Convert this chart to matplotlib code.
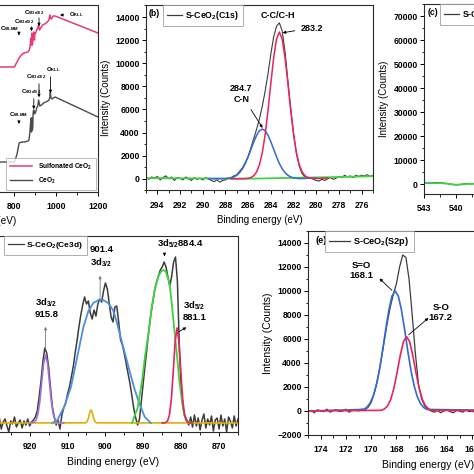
import matplotlib
matplotlib.use("Agg")
import matplotlib.pyplot as plt
from matplotlib.ticker import MultipleLocator

plt.rcParams['font.family'] = ['Liberation Sans', 'DejaVu Sans']
plt.rcParams['font.weight'] = 'bold'
plt.rcParams['mathtext.fontset'] = 'custom'
plt.rcParams['mathtext.rm'] = 'Liberation Sans:bold'
plt.rcParams['mathtext.bf'] = 'Liberation Sans:bold'
plt.rcParams['mathtext.it'] = 'Liberation Sans:bold'
plt.rcParams['mathtext.default'] = 'bf'

# ---------------- data ----------------
# (a) survey, arbitrary intensity units
a_red_x = [0, 800, 823, 833, 846, 865, 872, 876, 879, 882, 884, 886, 888, 891, 893, 896, 898, 902,
           907, 912, 916, 920, 926, 935, 945, 958, 965, 970, 973, 977, 985, 995, 1200]
a_red_y = [125, 125, 134, 137, 139, 140, 142, 147, 154, 147, 159, 147, 150, 156, 160, 152, 158, 159,
           162, 164, 167, 162, 164, 167, 168, 170, 172, 177, 174, 173, 176, 176, 159]
a_blk_x = [0, 800, 812, 823, 835, 850, 865, 870, 874, 877, 880, 882, 884, 886, 888, 890, 893, 897,
           902, 907, 912, 916, 922, 930, 940, 950, 960, 966, 970, 972, 975, 980, 986, 995, 1200]
a_blk_y = [30, 30, 37, 49, 50, 50, 51, 52, 59, 67, 74, 60, 74, 62, 64, 80, 82, 78,
           80, 84, 86, 92, 86, 87, 89, 90, 91, 92, 95, 100, 94, 93, 94, 95, 75]

# (b) C1s
b_x = [295 - 0.25 * i for i in range(81)]
b_data = [100, -50, 150, 50, 200, -100, 100, 250, 0, 150, -150, 100, 50, -100, 150, 0, -150, 100,
          -50, 50, -100, 100, 0, -150, -250, -100, -300, -150, -100, 50, 100, 250, 350, 650, 950,
          1400, 1950, 2700, 3500, 4300, 5200, 6300, 7600, 9100, 10800, 12300, 13200, 13500, 12800,
          11000, 8500, 6100, 3900, 2200, 1100, 450, 150, 50, 100, -50, -150, -200, -50, -150, 0,
          100, -50, 50, 200, 100, 300, 150, 250, 100, 300, 200, 300, 250, 350, 200, 300]
b_red_x = [287.5] + [286.25 - 0.25 * i for i in range(25)] + [279.0]
b_red_y = [0, 13, 40, 110, 270, 600, 1230, 2270, 3850, 5920, 8270, 10490, 12100, 12700, 12100,
           10490, 8270, 5920, 3850, 2270, 1230, 600, 270, 110, 40, 13, 60]
b_blue_x = [289.5] + [288.0 - 0.25 * i for i in range(27)] + [280.0]
b_blue_y = [0, 17, 40, 80, 160, 300, 530, 860, 1320, 1900, 2550, 3200, 3770, 4160, 4300, 4160,
            3770, 3200, 2550, 1900, 1320, 860, 530, 300, 160, 80, 40, 17, 60]
b_base_x = [295, 290, 287, 285, 283, 281, 279, 277, 275]
b_base_y = [50, 30, 0, 20, 60, 100, 130, 170, 220]

# (c) O1s (only the high energy edge is visible)
c_x = [543, 542.5, 542, 541.5, 541, 540.5, 540, 539.5, 539, 538.5, 538, 537.5, 537, 536.5, 536, 530, 522]
c_green = [400, 450, 350, 400, 200, -100, -300, -200, 0, 100, 200, 150, 250, 200, 300, 300, 300]
c_data = [500, 300, 600, 500, 300, 0, -400, -100, 200, 0, 400, 100, 500, 300, 200, 300, 300]

# (d) Ce3d
d_x = [930 - 0.5 * i for i in range(131)]
d_data = [200, -400, 300, -200, 500, -600, 100, 400, -300, -900, 200, -100, 600, -400, 0, 300,
          -500, 200, -200, 400, -300, 100, 300, 600, 1200, 2600, 4200, 6200, 7500, 7000, 5600, 3500,
          1600, 600, -200, 300, -600, 800, 1500, 2000, 2900, 3600, 4600, 5600, 7000, 8200, 9600,
          10800, 11800, 12600, 11900, 12200, 11000, 10400, 11300, 10700, 11900, 12400, 12100, 13200,
          14000, 13400, 12000, 10600, 10100, 11600, 11700, 10100, 8300, 7800, 6900, 5900, 4900,
          3900, 2700, 1400, 500, -200, 400, 2300, 4100, 5900, 7700, 9400, 10900, 12100, 13300,
          14100, 14700, 15300, 15600, 16100, 15600, 14600, 13700, 14700, 16100, 16600, 14200, 7800,
          3400, 1500, 700, 300, -200, 600, -400, 800, -300, 500, -700, 300, 900, -500, 400, -200,
          700, -800, 300, 500, -600, 800, -300, 400, -900, 600, 200, -500, 700, -300, 400]
d_purple_x = [920, 918.8, 918.3, 917.8, 917.3, 916.8, 916.3, 915.8, 915.3, 914.8, 914.3, 913.8, 913.3, 912.8, 911]
d_purple_y = [0, 75, 300, 920, 2210, 4130, 6000, 6800, 6000, 4130, 2210, 920, 300, 75, 0]
d_yellow_x = [931, 905.3, 905.05, 904.8, 904.55, 904.3, 904.05, 903.8, 903.55, 903.3, 903.05, 902.8,
              902.55, 902.3, 865]
d_yellow_y = [0, 14, 57, 176, 423, 789, 1147, 1300, 1147, 789, 423, 176, 57, 14, 0]
d_blue_x = [914, 912.7, 910.9, 909.1, 907.5, 905.8, 904.5, 903.2, 901.8, 900.6, 899.3, 898.0, 897.0,
            896.0, 894.8, 893.7, 892.4, 891.1, 889.6, 888]
d_blue_y = [0, 300, 1600, 3600, 6500, 9600, 11200, 12000, 12300, 12300, 12000, 11300, 10100, 8600,
            6900, 5300, 3500, 2000, 600, 0]
d_green_x = [893, 891.5, 890.3, 889.5, 888.5, 887.8, 887.0, 886.0, 885.2, 884.6, 884.0, 883.1, 882.5,
             881.8, 881.1, 880.5, 879.8, 879.2, 878.5, 877]
d_green_y = [0, 1500, 4300, 6800, 9300, 11500, 13300, 14700, 15200, 15300, 15100, 14000, 12000, 9300,
             6700, 4300, 2200, 800, 150, 0]
d_red_x = [885, 884.1, 883.6, 883.1, 882.6, 882.1, 881.6, 881.1, 880.6, 880.1, 879.6, 879.1, 878.6, 878.1, 877]
d_red_y = [0, 40, 200, 810, 2370, 5120, 8140, 9500, 8140, 5120, 2370, 810, 200, 40, 0]

# (e) S2p
e_x = [175 - 0.25 * i for i in range(77)]
e_data = [-100, 50, -150, 100, 0, -50, 150, -100, 50, 100, -50, 0, 150, -100, 50, 100, 0, 150, 100,
          300, 700, 1500, 2600, 4000, 5600, 7200, 8600, 9700, 10600, 12000, 13000, 12800, 11000,
          8000, 4800, 2200, 1000, 400, 150, 0, -100, 50, -150, 0, 100, -50, -150, 50, 0, -100, 100,
          -50, 0, -150, 50, -100, 0, 100, -50, -150, 0, 50, -100, 100, -50, 0, -100, 50, -150, 0,
          100, -50, 0, -100, 50, 0, -50]
e_blue_x = [175, 170.6, 170.35, 170.1, 169.85, 169.6, 169.35, 169.1, 168.85, 168.6, 168.35, 168.1,
            167.85, 167.6, 167.35, 167.1, 166.85, 166.6, 166.35, 166.1, 165.85, 165.6, 156]
e_blue_y = [0, 130, 300, 630, 1200, 2110, 3390, 5000, 6780, 8410, 9580, 10000, 9580, 8410, 6780,
            5000, 3390, 2110, 1200, 630, 300, 130, 0]
e_red_x = [175, 169.2, 168.95, 168.7, 168.45, 168.2, 167.95, 167.7, 167.45, 167.2, 166.95, 166.7,
           166.45, 166.2, 165.95, 165.7, 165.45, 165.2, 156]
e_red_y = [0, 56, 170, 430, 970, 1900, 3190, 4610, 5760, 6200, 5760, 4610, 3190, 1900, 970, 430,
           170, 56, 0]

DARK = '#3c3c3c'
RED = '#e8245a'
BLUE = '#3468d4'
LBLUE = '#4a8fe2'
GREEN = '#3fd23f'
PURPLE = '#a070e0'
YELLOW = '#e2b000'

W = H = 474
fig = plt.figure(figsize=(4.74, 4.74), dpi=100)


def px_axes(l, t, r, b):
    return fig.add_axes([l / W, 1 - b / H, (r - l) / W, (b - t) / H])


def style(ax, xmaj, xmin, ymaj=None, ymin=None):
    for s in ax.spines.values():
        s.set_linewidth(0.8)
        s.set_color('#2a2a2a')
    ax.xaxis.set_major_locator(MultipleLocator(xmaj))
    ax.xaxis.set_minor_locator(MultipleLocator(xmin))
    if ymaj:
        ax.yaxis.set_major_locator(MultipleLocator(ymaj))
        ax.yaxis.set_minor_locator(MultipleLocator(ymin))
    ax.tick_params(which='major', direction='out', length=3, width=0.7, labelsize=6.2)
    ax.tick_params(which='minor', direction='out', length=1.8, width=0.6)
    ax.tick_params(axis='x', which='major', pad=4.5)
    ax.tick_params(axis='y', which='major', pad=1.5)


def tag_legend(ax, tag, label, tag_x, box_x, fs=6.3, hl=1.7):
    ax.text(tag_x, 0.955, tag, transform=ax.transAxes, fontsize=fs, va='center', ha='left')
    h, = ax.plot([], [], color=DARK, lw=0.9)
    leg = ax.legend([h], [label], loc='upper left', bbox_to_anchor=(box_x, 1.0), borderaxespad=0,
                    frameon=True, fancybox=False, edgecolor='#9a9a9a', fontsize=fs, handlelength=hl,
                    handletextpad=0.35, borderpad=0.45)
    leg.get_frame().set_linewidth(0.7)


arrow = dict(arrowstyle='-|>', color='black', lw=0.6, mutation_scale=4)
garrow = dict(arrowstyle='-|>', color='#777777', lw=0.6, mutation_scale=4)

# ---------------- (a) ----------------
ax = px_axes(-153, 5, 98, 192)
ax.plot(a_red_x, a_red_y, color='#ea3a6e', lw=1.1, label='Sulfonated CeO$_2$')
ax.plot(a_blk_x, a_blk_y, color='#4a4a4a', lw=1.0, label='CeO$_2$')
ax.set_xlim(0, 1200)
ax.set_ylim(0, 187)
style(ax, 200, 100)
ax.set_yticks([])
ax.set_xlabel('Binding energy (eV)', fontsize=7.2, labelpad=3)
leg = ax.legend(loc='lower right', fontsize=4.8, frameon=True, fancybox=False, edgecolor='#9a9a9a',
                borderaxespad=0.3, handlelength=3.4, labelspacing=0.6, borderpad=0.6)
leg.get_frame().set_linewidth(0.6)
fa = 4.3
for txt, xt, yt, xa, ya in [('Ce$_{LMM}$', 778, 163, 822, 154),
                            ('Ce$_{3d5/2}$', 845, 170, 882, 158),
                            ('Ce$_{3d3/2}$', 895, 179, 918, 163)]:
    ax.text(xt, yt, txt, fontsize=fa, ha='center', va='center')
    ax.annotate('', xy=(xa, ya), xytext=(xa, yt - 2), arrowprops=arrow)
ax.annotate('O$_{KLL}$', xy=(1005, 177), xytext=(1060, 177), fontsize=fa, va='center',
            arrowprops=arrow)
for txt, xt, yt, xa, ya in [('Ce$_{LMM}$', 820, 77, 822, 68),
                            ('Ce$_{3d5/2}$', 878, 100, 893, 80),
                            ('Ce$_{3d3/2}$', 905, 115, 918, 92),
                            ('O$_{KLL}$', 985, 122, 973, 96)]:
    ax.text(xt, yt, txt, fontsize=fa, ha='center', va='center')
    ax.annotate('', xy=(xa, ya), xytext=(xa, yt - 4), arrowprops=arrow)

# ---------------- (b) ----------------
ax = px_axes(146, 5.5, 373, 190.3)
ax.plot(b_x, b_data, color=DARK, lw=0.8)
ax.plot(b_base_x, b_base_y, color=GREEN, lw=1.3)
ax.plot(b_blue_x, b_blue_y, color=BLUE, lw=1.1)
ax.plot(b_red_x, b_red_y, color=RED, lw=1.1)
ax.set_xlim(295, 275)
ax.set_ylim(-1000, 15000)
style(ax, 2, 1, 2000, 1000)
ax.set_xlabel('Binding energy (eV)', fontsize=7, labelpad=4)
ax.set_ylabel('Intensity (Counts)', fontsize=7, labelpad=3)
tag_legend(ax, '(b)', 'S-CeO$_2$(C1s)', 0.012, 0.075)
ax.text(283.4, 14100, 'C-C/C-H', fontsize=6.5, ha='center', va='center')
ax.annotate('283.2', xy=(283.2, 12600), xytext=(281.4, 13050), fontsize=6.5, va='center',
            arrowprops=arrow)
ax.annotate('284.7\nC-N', xy=(284.6, 4200), xytext=(286.6, 7300), fontsize=6.5, ha='center',
            va='center', linespacing=1.3, arrowprops=arrow)

# ---------------- (c) ----------------
ax = px_axes(424, 4, 649, 193.6)
ax.plot(c_x, c_data, color=DARK, lw=0.8)
ax.plot(c_x, c_green, color=GREEN, lw=1.3)
ax.set_xlim(543, 522)
ax.set_ylim(-4000, 75000)
style(ax, 3, 1.5, 10000, 5000)
ax.set_ylabel('Intensity (Counts)', fontsize=7, labelpad=3)
tag_legend(ax, '(c)', 'S-CeO$_2$(O1s)', 0.015, 0.071)

# ---------------- (d) ----------------
ax = px_axes(-12, 236, 238, 432)
ax.plot(d_x, d_data, color=DARK, lw=1.1)
ax.plot(d_yellow_x, d_yellow_y, color=YELLOW, lw=1.2)
ax.plot(d_purple_x, d_purple_y, color=PURPLE, lw=1.2)
ax.plot(d_blue_x, d_blue_y, color=LBLUE, lw=1.3)
ax.plot(d_green_x, d_green_y, color=GREEN, lw=1.3)
ax.plot(d_red_x, d_red_y, color=RED, lw=1.2)
ax.set_xlim(931, 865)
ax.set_ylim(-900, 18700)
style(ax, 10, 5)
ax.set_yticks([])
ax.set_xlabel('Binding energy (eV)', fontsize=7.5, labelpad=4)
tag_legend(ax, '(d)', 'S-CeO$_2$(Ce3d)', 0.004, 0.064, fs=6.0, hl=1.9)
fd = 6.8
ax.text(915.6, 11500, '3d$_{3/2}$\n915.8', fontsize=fd, ha='center', va='center', linespacing=1.2)
ax.annotate('', xy=(915.8, 9900), xytext=(915.8, 7100), arrowprops=garrow)
ax.text(904.2, 16600, '901.4\n3d$_{3/2}$', fontsize=fd, ha='left', va='center', linespacing=1.2)
ax.annotate('', xy=(901.4, 15000), xytext=(901.4, 12300), arrowprops=garrow)
ax.text(886.4, 17900, '3d$_{5/2}$884.4', fontsize=fd, ha='left', va='center')
ax.annotate('', xy=(884.4, 16400), xytext=(884.4, 17100), arrowprops=arrow)
ax.text(876.5, 11200, '3d$_{5/2}$\n881.1', fontsize=fd, ha='center', va='center', linespacing=1.2)
ax.annotate('', xy=(878.0, 9700), xytext=(881.2, 9000), arrowprops=arrow)

# ---------------- (e) ----------------
ax = px_axes(308, 231, 548, 435)
ax.plot(e_x, e_data, color=DARK, lw=0.9)
ax.plot(e_blue_x, e_blue_y, color=BLUE, lw=1.2)
ax.plot(e_red_x, e_red_y, color=RED, lw=1.2)
ax.set_xlim(175, 156)
ax.set_ylim(-2000, 15000)
style(ax, 2, 1, 2000, 1000)
ax.set_xlabel('Binding energy (eV)', fontsize=7.5, labelpad=4)
ax.set_ylabel('Intensity (Counts)', fontsize=7.5, labelpad=3)
tag_legend(ax, '(e)', 'S-CeO$_2$(S2p)', 0.03, 0.071, fs=6.6, hl=2.3)
ax.text(170.8, 11700, 'S=O\n168.1', fontsize=6.8, ha='center', va='center', linespacing=1.2)
ax.annotate('', xy=(169.5, 11200), xytext=(168.2, 9900), arrowprops=arrow)
ax.text(164.5, 8200, 'S-O\n167.2', fontsize=6.8, ha='center', va='center', linespacing=1.2)
ax.annotate('', xy=(165.3, 7900), xytext=(167.2, 6200), arrowprops=arrow)

fig.savefig('out.png', dpi=100)
